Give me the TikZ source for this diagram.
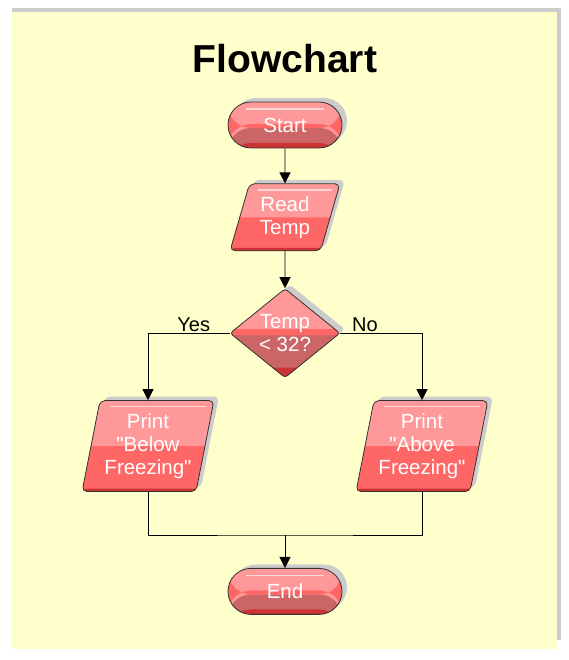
\documentclass[tikz,border=0pt]{standalone}
\usepackage{fontspec}
\setmainfont{Liberation Sans}[Ligatures=TeXOff]
\usetikzlibrary{arrows.meta,positioning,shapes.geometric,shadows}

\definecolor{paper}{HTML}{FFFFCC}
\definecolor{frame}{HTML}{CCCCCC}
\definecolor{pinklight}{HTML}{FF9999}
\definecolor{pinkmid}{HTML}{FF6666}
\definecolor{pinkdusk}{HTML}{CC6666}
\definecolor{reddark}{HTML}{CC3333}

\begin{document}
\begin{tikzpicture}
[x=1pt, y=1pt, font=\fontsize{20.5}{23}\selectfont,
>={Triangle[length=11pt,width=11pt]},
% STYLES
every node/.style={inner sep=0pt, align=center, text=white},
% shared look of all boxes: outline and shadow to the upper right
box/.style={draw=black!80, line width=0.8pt,
  drop shadow={shadow xshift=5pt, shadow yshift=4pt, fill=frame, opacity=1}},
% terminal is used for Start and End
terminal/.style={box, rectangle, rounded corners=23pt, minimum width=114pt, minimum height=46pt,
  path picture={
    \fill[pinklight] (path picture bounding box.south west) rectangle (path picture bounding box.north east);
    \fill[pinkdusk] (path picture bounding box.south west) rectangle ([yshift=-3pt]path picture bounding box.east);
    \fill[pinkmid] ([yshift=-3pt]path picture bounding box.west) rectangle ([yshift=1pt]path picture bounding box.east);
    \fill[reddark] (path picture bounding box.south west) rectangle ([yshift=5pt]path picture bounding box.south east);
    \draw[white!60!pinklight, line width=1.5pt] ([xshift=18pt,yshift=-7pt]path picture bounding box.north west) -- ([xshift=-18pt,yshift=-7pt]path picture bounding box.north east);}},
% io is used for input and output
io/.style={box, trapezium, trapezium stretches=true, rounded corners=5pt,
  path picture={
    \fill[pinklight] (path picture bounding box.south west) rectangle (path picture bounding box.north east);
    \fill[pinkmid] (path picture bounding box.south west) rectangle (path picture bounding box.east);
    \fill[reddark] (path picture bounding box.south west) rectangle ([yshift=3pt]path picture bounding box.south east);
    \draw[white!60!pinklight, line width=1.5pt] ([xshift=28pt,yshift=-6pt]path picture bounding box.north west) -- ([xshift=-8pt,yshift=-6pt]path picture bounding box.north east);}},
% decision is used for the test
decision/.style={box, diamond, minimum width=110pt, minimum height=88pt, rounded corners=3pt,
  path picture={
    \fill[pinklight] (path picture bounding box.south west) rectangle (path picture bounding box.north east);
    \fill[pinkdusk] (path picture bounding box.south west) rectangle ([yshift=-2pt]path picture bounding box.east);
    \fill[pinkmid] ([yshift=-2pt]path picture bounding box.west) rectangle ([yshift=4pt]path picture bounding box.east);
    \fill[reddark] (path picture bounding box.south west) rectangle ([yshift=10pt]path picture bounding box.south east);}},
% answer is used for the branch labels
answer/.style={text=black, font=\fontsize{20}{22}\selectfont},
line/.style={draw, line width=0.8pt}]

% Draw page
\useasboundingbox (0,0) rectangle (569,660);
\fill[frame] (12,20) rectangle (561,652);
\fill[paper] (12,11) rectangle (557,648);
\node [text=black, font=\fontsize{39}{44}\selectfont\bfseries] (title) at (285,601) {Flowchart};

% Draw steps
\node [terminal] (start) at (285,535) {Start};
\node [io, trapezium left angle=72, trapezium right angle=108, minimum width=110pt, minimum height=67pt,
  below=35pt of start] (read) {Read\\Temp};
\node [decision, below=37pt of read] (test) {Temp\\< 32?};
\node [io, trapezium left angle=76, trapezium right angle=104, minimum width=132pt, minimum height=91pt,
  below=22pt of test, xshift=-137pt] (cold) {Print\\"Below\\Freezing"};
\node [io, trapezium left angle=76, trapezium right angle=104, minimum width=132pt, minimum height=91pt,
  below=22pt of test, xshift=137pt] (warm) {Print\\"Above\\Freezing"};
\coordinate (join) at (285,125);
\node [terminal, below=33pt of join] (end) {End};

% Draw the links between steps
\path[line,->] (start) -- (read);
\path[line,->] (read) -- (test);
\path[line,->] (test.west) -| node [answer, pos=0.22, above=1pt] {Yes} (cold.north);
\path[line,->] (test.east) -| node [answer, pos=0.15, above=1pt] {No} (warm.north);
\path[line] (cold.south) |- (join) -| (warm.south);
\path[line,->] (join) -- (end);

\end{tikzpicture}
\end{document}
